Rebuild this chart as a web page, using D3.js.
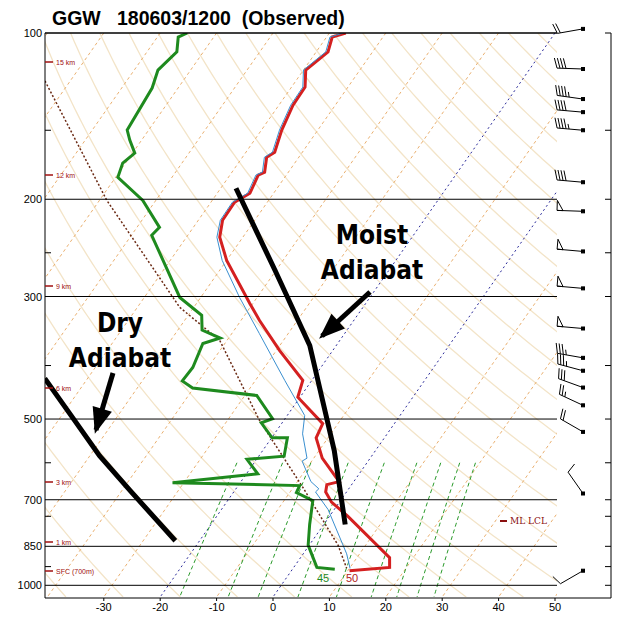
<!DOCTYPE html>
<html><head><meta charset="utf-8">
<script src="https://cdn.jsdelivr.net/npm/d3@7"></script>
<style>body{margin:0;background:#fff;font-family:Arial,"Liberation Sans",sans-serif}</style>
</head><body>
<svg id="c" width="629" height="620"></svg>
<script>
// temperature profile (hPa, degC)
const tempP = [100,101.7,108.2,116.7,125.3,135.1,149.9,164.4,167.9,178.7,180.8,195.1,202.5,218.3,234.3,258,308.5,331.6,375.9,425.6,456.5,509.7,540.8,588.6,649,657.3,677.6,707,749.3,891.5,928,941];
const tempT = [-57.1,-59.0,-57.9,-59.6,-57.6,-57.5,-56.4,-54.9,-55.7,-54.2,-55.0,-54.2,-55.8,-55.7,-54.1,-50.0,-40.6,-36.7,-29.4,-21.6,-20.4,-12.7,-12.1,-8.5,-2.6,-4.4,-3.7,-1.4,3.2,15.8,17.0,10.3];
// dewpoint profile
const dewP = [100,101.7,108.2,116.7,125.8,149.9,156.3,165,172,182.5,201,224.9,232.4,301.2,324.5,345.1,356.7,364.9,403.4,426.5,439.2,453.2,499.3,508,540.8,540.8,583.8,591.5,628.1,651.9,659.9,679.6,702.6,776.1,845.9,928,935];
const dewT = [-85.2,-86.3,-84.7,-85.8,-84.6,-83.8,-82.1,-79.6,-80.5,-79.6,-72.3,-66.0,-66.4,-53.7,-47.6,-45.7,-41.5,-43.9,-42.7,-42.9,-40.2,-27.9,-22.2,-23.7,-19.9,-17.2,-15.5,-21.7,-18.0,-32.0,-9.1,-8.8,-4.9,-2.5,-0.2,4.1,7.5];
// virtual temperature
const virtP = [100,101.7,108.2,116.7,125.3,135.1,149.9,164.4,167.9,178.7,180.8,195.1,202.5,218.3,234.3,258,301.2,350.2,425.6,492.8,531.9,588.6,595.9,649,668.8,677.6,729,877,931.6];
const virtT = [-57.5,-59.4,-58.3,-60.0,-58.0,-57.9,-56.8,-55.3,-56.1,-54.6,-55.4,-54.6,-56.2,-56.1,-54.6,-50.8,-43.1,-35.1,-24.8,-16.9,-15.0,-11.2,-11.7,-7.6,-5.3,-5.5,-1.1,7.7,10.1];
// parcel trace
const parcelP = [100,120.2,200.9,313.8,360.2,503,665,845.9,931.6];
const parcelT = [-114,-105.3,-78.7,-52.5,-41.3,-24.3,-8.3,5.1,9.5];
// annotation lines
const moistP = [191,268.9,367.9,570.4,776.1];
const moistT = [-57.3,-40.2,-24.7,-7.3,3.8];
const dryP = [422,502.9,582.6,673.2,830.5];
const dryT = [-67.6,-57.1,-48.3,-38.6,-24.3];
// winds: pressure, direction (deg), speed (kt)
const windP = [98.3,116.2,131.7,139.1,150,186.3,210.3,248.6,290,342.8,387.4,408.8,438.5,472.2,527.5,682,941];
const windD = [260,272,278,275,275,275,272,275,275,275,280,285,290,295,300,325,240];
const windS = [20,40,45,40,45,40,50,50,50,50,35,35,30,25,20,10,10];

const presLabels = [100,200,300,500,700,850,1000];
const tempTicks = [-30,-20,-10,0,10,20,30,40,50];
const heights = [["15 km",62],["12 km",175],["9 km",286],["6 km",388],["3 km",482],["1 km",542],["SFC (700m)",571]];

const L=45,R=557,T=33,B=597,skew=0.7;
const y = d3.scaleLog().domain([100,1050]).range([T,B]);
const xs = d3.scaleLinear().domain([0,50]).range([273,555]);
const px = (p,t)=>xs(t)+skew*(B-y(p));
const svg = d3.select('#c');
svg.append('defs').append('clipPath').attr('id','cl').append('rect').attr('x',L).attr('y',T).attr('width',R-L).attr('height',B-T);
const g = svg.append('g').attr('clip-path','url(#cl)');
const line = d3.line().x(d=>px(d[0],d[1])).y(d=>y(d[0]));
const levels = d3.range(0,121).map(i=>100*Math.pow(10.5,i/120));

// dry adiabats
d3.range(-40,250,10).forEach(th=>{
  const K=th+273.15;
  g.append('path').attr('d',line(levels.map(p=>[p,K*Math.pow(p/1000,0.286)-273.15])))
   .attr('fill','none').attr('stroke','#f3e4c8').attr('stroke-width',1.3);
});
// isotherms
d3.range(-130,60,10).forEach(t=>{
  const blue = t===0||t===-20;
  g.append('path').attr('d',line([[100,t],[1050,t]])).attr('fill','none')
   .attr('stroke',blue?'#2a2a9a':'#eab070').attr('stroke-width',1)
   .attr('stroke-dasharray',blue?'2,3':'3,3');
});
// mixing ratio lines
[1,2,3,5,8,12,16,20,24].forEach(w=>{
  const pts = d3.range(600,1051,25).map(p=>{
    const e=w*p/(622+w), a=Math.log(e/6.112);
    return [p,243.5*a/(17.67-a)];
  });
  g.append('path').attr('d',line(pts)).attr('fill','none').attr('stroke','#2a9a2a')
   .attr('stroke-width',1).attr('stroke-dasharray','4,3');
});
// grid lines
presLabels.forEach(p=>svg.append('line').attr('x1',L).attr('x2',R).attr('y1',y(p)).attr('y2',y(p)).attr('stroke','#000'));

const zip=(a,b)=>a.map((v,i)=>[v,b[i]]);
g.append('path').attr('d',line(zip(parcelP,parcelT))).attr('fill','none').attr('stroke','#6b2a14').attr('stroke-width',1.5).attr('stroke-dasharray','2,2');
g.append('path').attr('d',line(zip(dewP,dewT))).attr('fill','none').attr('stroke','#1e8a1e').attr('stroke-width',3);
g.append('path').attr('d',line(zip(tempP,tempT))).attr('fill','none').attr('stroke','#d42020').attr('stroke-width',3);
g.append('path').attr('d',line(zip(virtP,virtT))).attr('fill','none').attr('stroke','#3a8fd0').attr('stroke-width',1);

// annotations
g.append('path').attr('d',line(zip(moistP,moistT))).attr('fill','none').attr('stroke','#000').attr('stroke-width',5);
g.append('path').attr('d',line(zip(dryP,dryT))).attr('fill','none').attr('stroke','#000').attr('stroke-width',5);
function arrow(x1,y1,x2,y2){
  svg.append('line').attr('x1',x1).attr('y1',y1).attr('x2',x2).attr('y2',y2).attr('stroke','#000').attr('stroke-width',5);
  const a=Math.atan2(y2-y1,x2-x1), h=22, w=10;
  const bx=x2-h*Math.cos(a), by=y2-h*Math.sin(a);
  svg.append('polygon').attr('points',[[x2+4*Math.cos(a),y2+4*Math.sin(a)],[bx-w*Math.sin(a),by+w*Math.cos(a)],[bx+w*Math.sin(a),by-w*Math.cos(a)]].map(d=>d.join(',')).join(' '));
}
arrow(370,292,322,336);
arrow(113,373,96,430);
const big = (t,x,yy)=>svg.append('text').attr('x',x).attr('y',yy).attr('text-anchor','middle').attr('font-size',26).attr('font-weight','bold').attr('font-family','"Liberation Sans Narrow","DejaVu Sans Condensed",Arial').text(t);
big('Moist',372,244); big('Adiabat',372,279); big('Dry',120,332); big('Adiabat',120,367);

// frame
svg.append('line').attr('x1',L).attr('x2',L).attr('y1',T).attr('y2',B+1).attr('stroke','#000');
svg.append('line').attr('x1',L).attr('x2',R).attr('y1',T).attr('y2',T).attr('stroke','#000');
svg.append('line').attr('x1',L).attr('x2',611).attr('y1',B+1).attr('y2',B+1).attr('stroke','#000');
svg.append('line').attr('x1',611).attr('x2',611).attr('y1',T).attr('y2',B+1).attr('stroke','#000');
[150,250,400,600,750,925].forEach(p=>svg.append('line').attr('x1',L).attr('x2',L+6).attr('y1',y(p)).attr('y2',y(p)).attr('stroke','#000'));
[100,150,200,250,300,400,500,600,700,750,850,925,1000].forEach(p=>svg.append('line').attr('x1',605).attr('x2',611).attr('y1',y(p)).attr('y2',y(p)).attr('stroke','#000'));
presLabels.forEach(p=>svg.append('text').attr('x',42).attr('y',y(p)+4).attr('text-anchor','end').attr('font-size',11).text(p));
tempTicks.forEach(t=>{
  svg.append('line').attr('x1',xs(t)).attr('x2',xs(t)).attr('y1',B+1).attr('y2',B+4).attr('stroke','#000');
  svg.append('text').attr('x',xs(t)).attr('y',611).attr('text-anchor','middle').attr('font-size',11).text(t);
});
heights.forEach(h=>{
  const yy=h[1];
  svg.append('line').attr('x1',L).attr('x2',L+8).attr('y1',yy).attr('y2',yy).attr('stroke','#a01010').attr('stroke-width',1.5);
  svg.append('text').attr('x',L+11).attr('y',yy+3).attr('font-size',7).attr('fill','#a01010').text(h[0]);
});
svg.append('line').attr('x1',500).attr('x2',507).attr('y1',521).attr('y2',521).attr('stroke','#8a1010').attr('stroke-width',2);
svg.append('text').attr('x',510).attr('y',524).attr('font-size',9).attr('fill','#8a1010').attr('font-family','"DejaVu Serif",serif').text('ML LCL');
svg.append('text').attr('x',323).attr('y',582).attr('text-anchor','middle').attr('font-size',11).attr('fill','#1e8a1e').text('45');
svg.append('text').attr('x',352).attr('y',582).attr('text-anchor','middle').attr('font-size',11).attr('fill','#b02020').text('50');
svg.append('text').attr('x',52).attr('y',25).attr('font-size',19.5).attr('font-weight','bold').attr('xml:space','preserve').text('GGW   180603/1200  (Observed)');

// wind barbs
windP.forEach((p,i)=>{
  const sx=583, sy=y(p), len=26;
  const r=windD[i]*Math.PI/180;
  const dx=Math.sin(r), dy=-Math.cos(r);
  const tx=sx+dx*len, ty=sy+dy*len;
  const bg=svg.append('g').attr('stroke','#000').attr('fill','none');
  bg.append('line').attr('x1',sx).attr('y1',sy).attr('x2',tx).attr('y2',ty);
  bg.append('rect').attr('x',sx-1.5).attr('y',sy-1.5).attr('width',3).attr('height',3).attr('fill','#000');
  const nx=-dy, ny=dx; // perpendicular (clockwise side)
  let s=windS[i], k=0;
  while(s>=50){
    const x0=tx-dx*k*3, y0=ty-dy*k*3;
    bg.append('polygon').attr('points',`${x0},${y0} ${x0+nx*10},${y0+ny*10} ${x0-dx*6},${y0-dy*6}`); s-=50; k+=3;
  }
  while(s>=10){
    const x0=tx-dx*k*3, y0=ty-dy*k*3;
    bg.append('line').attr('x1',x0).attr('y1',y0).attr('x2',x0+nx*10+dx*3).attr('y2',y0+ny*10+dy*3); s-=10; k++;
  }
  if(s>=5){
    const x0=tx-dx*k*3, y0=ty-dy*k*3;
    bg.append('line').attr('x1',x0).attr('y1',y0).attr('x2',x0+nx*5+dx*1.5).attr('y2',y0+ny*5+dy*1.5);
  }
});
</script>
</body></html>
